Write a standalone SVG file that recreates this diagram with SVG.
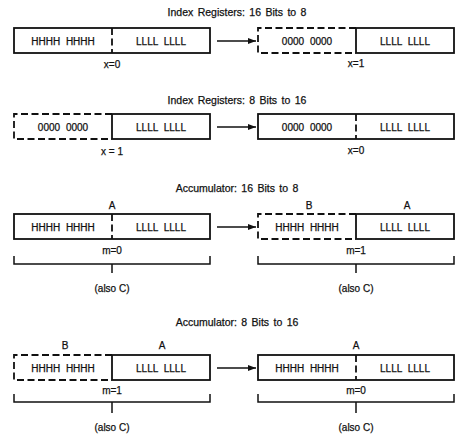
<svg xmlns="http://www.w3.org/2000/svg" width="474" height="439" viewBox="0 0 474 439">
<defs>
<marker id="ah" markerWidth="8" markerHeight="6" refX="8" refY="3" orient="auto" markerUnits="userSpaceOnUse">
<path d="M0,0 L8,3 L0,6 Z" fill="#111"/>
</marker>
<style>
text{font-family:"Liberation Sans",Arial,sans-serif;fill:#111;stroke:#111;stroke-width:0.25;text-anchor:middle}
.t{font-size:10.5px;word-spacing:1.5px}
.c{font-size:10px}
.w{word-spacing:3px}
.s{stroke:#111;stroke-width:1.8;fill:none}
.d{stroke:#111;stroke-width:1.8;fill:none;stroke-dasharray:7 3.5}
.b{stroke:#111;stroke-width:1.5;fill:none}
.a{stroke:#111;stroke-width:1.6;fill:none}
</style>
</defs>
<rect width="474" height="439" fill="#fff"/>

<g id="titles">
<text class="t" x="237" y="16">Index Registers: 16 Bits to 8</text>
<text class="t" x="237" y="104">Index Registers: 8 Bits to 16</text>
<text class="t" x="237" y="192">Accumulator: 16 Bits to 8</text>
<text class="t" x="237" y="326">Accumulator: 8 Bits to 16</text>
</g>

<g id="ix16">
<rect class="s" x="14" y="28" width="196" height="25"/>
<line class="d" x1="112" y1="28" x2="112" y2="53"/>
<text class="c w" x="63" y="45">HHHH HHHH</text>
<text class="c w" x="161" y="45">LLLL LLLL</text>
<text class="c" x="112" y="68">x=0</text>
</g>
<g id="ix8">
<path class="d" d="M356,28 H258 V53 H356"/>
<rect class="s" x="356" y="28" width="98" height="25"/>
<text class="c w" x="307" y="45">0000 0000</text>
<text class="c w" x="405" y="45">LLLL LLLL</text>
<text class="c" x="356" y="67">x=1</text>
</g>

<g id="ix8b">
<path class="d" d="M112,114 H14 V139 H112"/>
<rect class="s" x="112" y="114" width="98" height="25"/>
<text class="c w" x="63" y="131">0000 0000</text>
<text class="c w" x="161" y="131">LLLL LLLL</text>
<text class="c" x="112" y="155">x = 1</text>
</g>
<g id="ix16b">
<rect class="s" x="258" y="114" width="196" height="25"/>
<line class="d" x1="356" y1="114" x2="356" y2="139"/>
<text class="c w" x="307" y="131">0000 0000</text>
<text class="c w" x="405" y="131">LLLL LLLL</text>
<text class="c" x="356" y="154">x=0</text>
</g>

<g id="acc16">
<text class="c" x="112" y="209">A</text>
<rect class="s" x="14" y="214" width="196" height="25"/>
<line class="d" x1="112" y1="214" x2="112" y2="239"/>
<text class="c w" x="63" y="231">HHHH HHHH</text>
<text class="c w" x="161" y="231">LLLL LLLL</text>
<text class="c" x="112" y="254">m=0</text>
<path class="b" d="M14,256 V264 H210 V256 M112,264 V273"/>
<text class="c" x="112" y="292">(also C)</text>
</g>
<g id="acc8">
<text class="c" x="309" y="209">B</text>
<text class="c" x="407" y="209">A</text>
<path class="d" d="M356,214 H258 V239 H356"/>
<rect class="s" x="356" y="214" width="98" height="25"/>
<text class="c w" x="307" y="231">HHHH HHHH</text>
<text class="c w" x="405" y="231">LLLL LLLL</text>
<text class="c" x="356" y="254">m=1</text>
<path class="b" d="M258,256 V264 H454 V256 M356,264 V273"/>
<text class="c" x="356" y="292">(also C)</text>
</g>

<g id="acc8b">
<text class="c" x="65" y="349">B</text>
<text class="c" x="162" y="349">A</text>
<path class="d" d="M112,355 H14 V380 H112"/>
<rect class="s" x="112" y="355" width="98" height="25"/>
<text class="c w" x="63" y="372">HHHH HHHH</text>
<text class="c w" x="161" y="372">LLLL LLLL</text>
<text class="c" x="112" y="394">m=1</text>
<path class="b" d="M14,394 V402 H210 V394 M112,402 V413"/>
<text class="c" x="112" y="431">(also C)</text>
</g>
<g id="acc16b">
<text class="c" x="356" y="349">A</text>
<rect class="s" x="258" y="355" width="196" height="25"/>
<line class="d" x1="356" y1="355" x2="356" y2="380"/>
<text class="c w" x="307" y="372">HHHH HHHH</text>
<text class="c w" x="405" y="372">LLLL LLLL</text>
<text class="c" x="356" y="394">m=0</text>
<path class="b" d="M258,394 V402 H454 V394 M356,402 V413"/>
<text class="c" x="356" y="431">(also C)</text>
</g>

<g id="connectors">
<line class="a" x1="217" y1="41" x2="256" y2="41" marker-end="url(#ah)"/>
<line class="a" x1="217" y1="127" x2="256" y2="127" marker-end="url(#ah)"/>
<line class="a" x1="217" y1="227" x2="256" y2="227" marker-end="url(#ah)"/>
<line class="a" x1="217" y1="368" x2="256" y2="368" marker-end="url(#ah)"/>
</g>
</svg>
